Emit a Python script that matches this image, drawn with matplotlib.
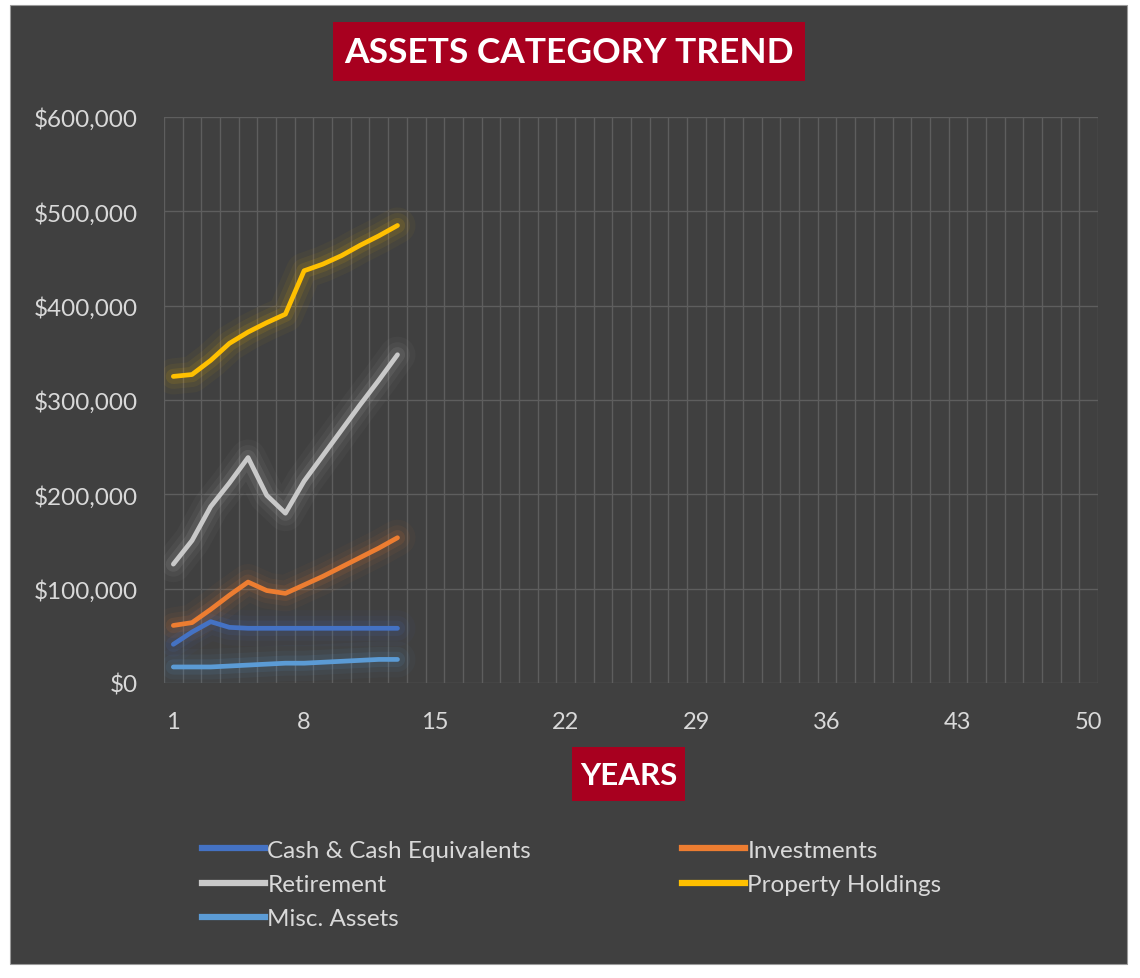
import numpy as np
import matplotlib
matplotlib.use("Agg")
import matplotlib.pyplot as plt
from matplotlib.patches import Rectangle
from matplotlib.lines import Line2D
from matplotlib.ticker import FuncFormatter

# ======================================
# 1) data
# ======================================
years = list(range(1, 14))
year_ticks = [1, 8, 15, 22, 29, 36, 43, 50]

cash = [41000, 54000, 65000, 59000, 58000, 58000, 58000, 58000, 58000, 58000, 58000, 58000, 58000]
investments = [61000, 64000, 78000, 93000, 107000, 98000, 95000, 104000, 113000, 123000, 133000, 143000, 154000]
retirement = [126000, 151000, 187000, 212000, 239000, 199000, 180000, 214000, 241000, 268000, 295000, 321000, 348000]
property_holdings = [325000, 327000, 342000, 360000, 372000, 382000, 391000, 437000, 444000, 453000, 464000, 474000, 485000]
misc = [17000, 17000, 17000, 18000, 19000, 20000, 21000, 21000, 22000, 23000, 24000, 25000, 25000]

series = [
    ("Cash & Cash Equivalents", cash, "#4472C4"),
    ("Investments", investments, "#ED7D31"),
    ("Retirement", retirement, "#C9C9C9"),
    ("Property Holdings", property_holdings, "#FFC000"),
    ("Misc. Assets", misc, "#5B9BD5"),
]

BG = "#404040"
GRID = "#5E5E5E"
TXT = "#D9D9D9"
RED = "#A8001F"
FONT = "Lato"

W, H = 1140, 979

# ======================================
# 2) figure + dark panel
# ======================================
fig = plt.figure(figsize=(W / 100, H / 100), dpi=100)
fig.patch.set_facecolor("white")


def px(x0, y0, x1, y1):
    # pixel box (top-left origin) -> figure fraction
    return x0 / W, 1 - y1 / H, (x1 - x0) / W, (y1 - y0) / H


bx, by, bw, bh = px(10, 6, 1127, 965)
fig.patches.append(Rectangle((bx, by), bw, bh, transform=fig.transFigure,
                             facecolor=BG, edgecolor="#9a9a9a", linewidth=0.8, zorder=-5))

ax = fig.add_axes(px(164, 118, 1098, 684))
ax.set_zorder(2)
ax.patch.set_alpha(0)

# ======================================
# 3) lines with glow
# ======================================
for name, vals, col in series:
    for lw, a in [(26, 0.04), (18, 0.06), (11, 0.10)]:
        ax.plot(years, vals, color=col, lw=lw, alpha=a, solid_capstyle="round",
                solid_joinstyle="round", zorder=2)
    ax.plot(years, vals, color=col, lw=3.4, solid_capstyle="round",
            solid_joinstyle="round", zorder=3)

ax.set_xlim(0.5, 50.5)
ax.set_ylim(0, 600000)
ax.set_xticks(year_ticks)
ax.set_xticks(np.arange(0.5, 51, 1.0), minor=True)
ax.set_yticks(np.arange(0, 600001, 100000))
ax.yaxis.set_major_formatter(FuncFormatter(lambda v, p: f"${v:,.0f}"))

ax.grid(False)
ax.grid(which="minor", axis="x", color=GRID, lw=1.0, zorder=1)
ax.grid(which="major", axis="y", color=GRID, lw=1.0, zorder=1)
ax.set_axisbelow(True)
for s in ax.spines.values():
    s.set_visible(False)

ax.tick_params(which="both", length=0)
ax.tick_params(axis="x", pad=20, labelsize=17, labelcolor=TXT)
ax.tick_params(axis="y", pad=19, labelsize=17.5, labelcolor=TXT)
for lab in ax.get_xticklabels() + ax.get_yticklabels():
    lab.set_fontfamily(FONT)

# ======================================
# 4) title / axis title boxes
# ======================================
tx, ty, tw, th = px(333, 23, 805, 82)
fig.patches.append(Rectangle((tx, ty), tw, th, transform=fig.transFigure,
                             facecolor=RED, edgecolor="none", zorder=1))
fig.text(569 / W, 1 - 53 / H, "ASSETS CATEGORY TREND", color="white", fontsize=25.5,
         fontweight="bold", family=FONT, ha="center", va="center")

yx, yy, yw, yh = px(572, 748, 685, 802)
fig.patches.append(Rectangle((yx, yy), yw, yh, transform=fig.transFigure,
                             facecolor=RED, edgecolor="none", zorder=1))
fig.text(628.5 / W, 1 - 776 / H, "YEARS", color="white", fontsize=22.5,
         fontweight="bold", family=FONT, ha="center", va="center")

# ======================================
# 5) legend (2 columns, row-wise order)
# ======================================
order = [0, 2, 4, 1, 3]
handles = [Line2D([0], [0], color=series[i][2], lw=4.5) for i in order]
labels = [series[i][0] for i in order]
fig.legend(handles, labels, ncol=2, loc="upper left",
           bbox_to_anchor=(192 / W, 1 - 831 / H),
           frameon=False, prop={"family": FONT, "size": 17.5},
           labelcolor=TXT, handlelength=2.6, handletextpad=0.1,
           columnspacing=6.2, labelspacing=0.55, borderaxespad=0)

fig.savefig("out.png", dpi=100, facecolor=fig.get_facecolor())
